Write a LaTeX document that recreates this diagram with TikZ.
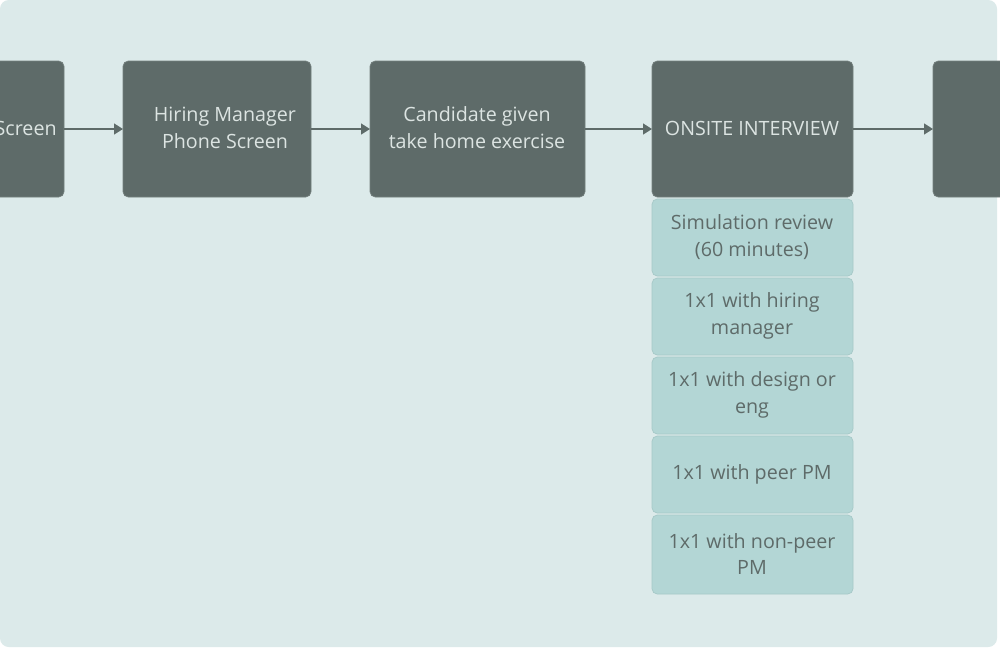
\documentclass[tikz,border=0pt]{standalone}
\usepackage{fontspec}
\setmainfont{Open Sans}
\usetikzlibrary{arrows.meta}
\definecolor{panel}{HTML}{DCEAEA}
\definecolor{dark}{HTML}{5E6B69}
\definecolor{darkedge}{HTML}{74807E}
\definecolor{sub}{HTML}{B3D6D5}
\definecolor{subedge}{HTML}{A6C8C7}
\definecolor{lighttext}{HTML}{DCE4E2}
\tikzset{
  darkbox/.style={fill=dark, draw=darkedge, line width=0.4pt, rounded corners=3pt},
  subbox/.style={fill=sub, draw=subedge, line width=0.4pt, rounded corners=3pt},
  lbl/.style={inner sep=0pt, align=center, font=\fontsize{11.2}{15.3}\selectfont},
  darklbl/.style={lbl, text=lighttext},
  sublbl/.style={lbl, text=dark},
  flow/.style={draw=dark, line width=1.1pt, -{Triangle[length=5pt,width=6pt]}},
}
\begin{document}
\begin{tikzpicture}[x=0.02cm,y=-0.02cm]
\useasboundingbox (0,0) rectangle (1000,650);
\fill[white] (0,0) rectangle (1000,650);
\fill[panel, rounded corners=5pt] (0,0) rectangle (997,647);
% main boxes
\begin{scope}
\clip (0,0) rectangle (1000,650);
\draw[darkbox] (-60,61) rectangle (64,197);
\draw[darkbox] (933,61) rectangle (1060,197);
\end{scope}
\draw[darkbox] (123,61) rectangle (311,197);
\draw[darkbox] (370,61) rectangle (585,197);
\draw[darkbox] (652,61) rectangle (853,197);
\coordinate (b0e) at (64,129);
\coordinate (b4w) at (933,129);
\coordinate (b1w) at (123,129);
\coordinate (b1e) at (311,129);
\coordinate (b2w) at (370,129);
\coordinate (b2e) at (585,129);
\coordinate (b3w) at (652,129);
\coordinate (b3e) at (853,129);
\node[darklbl, anchor=east] (t0) at (57,128) {Screen};
\node[darklbl] (t1) at (225,128) {Hiring Manager\\Phone Screen};
\node[darklbl] (t2) at (477,128) {Candidate given\\take home exercise};
\node[darklbl] (t3) at (752,128) {ONSITE INTERVIEW};
% arrows
\draw[flow] (b0e) -- (b1w);
\draw[flow] (b1e) -- (b2w);
\draw[flow] (b2e) -- (b3w);
\draw[flow] (b3e) -- (b4w);
% sub boxes
\draw[subbox] (652,199) rectangle (853,276);
\draw[subbox] (652,278) rectangle (853,355);
\draw[subbox] (652,357) rectangle (853,434);
\draw[subbox] (652,436) rectangle (853,513);
\draw[subbox] (652,515) rectangle (853,594);
\node[sublbl] (s1) at (752,237) {Simulation review\\(60 minutes)};
\node[sublbl] (s2) at (752,316) {1x1 with hiring\\manager};
\node[sublbl] (s3) at (752,395) {1x1 with design or\\eng};
\node[sublbl] (s4) at (752,474) {1x1 with peer PM};
\node[sublbl] (s5) at (752,554) {1x1 with non-peer\\PM};
\end{tikzpicture}
\end{document}
